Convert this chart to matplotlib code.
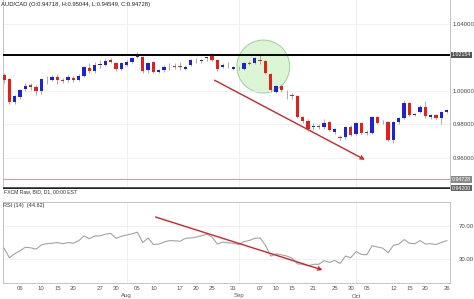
import matplotlib
matplotlib.use("Agg")
import matplotlib.pyplot as plt
import matplotlib.transforms as mtransforms
from matplotlib.patches import Ellipse
import numpy as np
import pandas as pd

plt.rcParams['font.family'] = ['Liberation Sans', 'DejaVu Sans']

# daily candles, 1 Jul - 26 Oct 2015 (weekdays)
dates = pd.bdate_range("2015-07-01", "2015-10-26")

opens = [1.0096, 1.0070, 0.9934, 0.9964, 1.0010, 1.0036, 1.0024, 1.0000, 1.0062, 1.0066,
         1.0084, 1.0064, 1.0066, 1.0078, 1.0066, 1.0090, 1.0137, 1.0119, 1.0155, 1.0155,
         1.0185, 1.0167, 1.0131, 1.0155, 1.0173, 1.0203, 1.0200, 1.0125, 1.0170, 1.0113,
         1.0125, 1.0152, 1.0150, 1.0150, 1.0131, 1.0155, 1.0180, 1.0179, 1.0197, 1.0209,
         1.0185, 1.0143, 1.0158, 1.0131, 1.0140, 1.0131, 1.0167, 1.0167, 1.0182, 1.0179,
         1.0101, 0.9994, 1.0030, 0.9978, 0.9975, 0.9970, 0.9845, 0.9820, 0.9785, 0.9791,
         0.9785, 0.9815, 0.9755, 0.9728, 0.9725, 0.9785, 0.9743, 0.9810, 0.9758, 0.9750,
         0.9845, 0.9816, 0.9815, 0.9707, 0.9815, 0.9839, 0.9928, 0.9857, 0.9875, 0.9905,
         0.9845, 0.9857, 0.9840, 0.9875]
closes = [1.0066, 0.9934, 0.9970, 1.0006, 1.0030, 1.0024, 1.0000, 1.0072, 1.0058, 1.0084,
          1.0066, 1.0060, 1.0084, 1.0066, 1.0090, 1.0144, 1.0119, 1.0155, 1.0161, 1.0179,
          1.0173, 1.0131, 1.0167, 1.0173, 1.0197, 1.0209, 1.0119, 1.0167, 1.0115, 1.0125,
          1.0143, 1.0148, 1.0146, 1.0147, 1.0143, 1.0183, 1.0176, 1.0185, 1.0203, 1.0185,
          1.0131, 1.0155, 1.0155, 1.0143, 1.0137, 1.0167, 1.0164, 1.0197, 1.0179, 1.0107,
          1.0006, 1.0030, 1.0006, 0.9975, 0.9970, 0.9845, 0.9820, 0.9773, 0.9791, 0.9787,
          0.9810, 0.9767, 0.9773, 0.9722, 0.9785, 0.9737, 0.9810, 0.9750, 0.9752, 0.9845,
          0.9810, 0.9813, 0.9707, 0.9815, 0.9839, 0.9928, 0.9857, 0.9863, 0.9905, 0.9851,
          0.9857, 0.9839, 0.9875, 0.9887]
highs = [1.0105, 1.0075, 0.9978, 1.0012, 1.0045, 1.0050, 1.0035, 1.0080, 1.0090, 1.0095,
         1.0100, 1.0080, 1.0095, 1.0090, 1.0100, 1.0150, 1.0165, 1.0175, 1.0185, 1.0190,
         1.0195, 1.0175, 1.0175, 1.0185, 1.0205, 1.0235, 1.0210, 1.0175, 1.0180, 1.0130,
         1.0155, 1.0165, 1.0165, 1.0170, 1.0155, 1.0190, 1.0195, 1.0190, 1.0205, 1.0225,
         1.0190, 1.0165, 1.0170, 1.0150, 1.0150, 1.0175, 1.0180, 1.0205, 1.0215, 1.0185,
         1.0105, 1.0035, 1.0040, 1.0006, 0.9990, 0.9975, 0.9850, 0.9830, 0.9810, 0.9800,
         0.9835, 0.9820, 0.9780, 0.9740, 0.9790, 0.9795, 0.9815, 0.9815, 0.9770, 0.9850,
         0.9850, 0.9825, 0.9820, 0.9820, 0.9845, 0.9945, 0.9935, 0.9870, 0.9915, 0.9940,
         0.9865, 0.9865, 0.9880, 0.9895]
lows = [1.0050, 0.9925, 0.9925, 0.9955, 1.0000, 1.0005, 0.9975, 0.9980, 1.0040, 1.0060,
        1.0040, 1.0045, 1.0055, 1.0055, 1.0060, 1.0085, 1.0110, 1.0110, 1.0140, 1.0150,
        1.0165, 1.0120, 1.0125, 1.0150, 1.0165, 1.0195, 1.0110, 1.0110, 1.0105, 1.0105,
        1.0115, 1.0125, 1.0130, 1.0125, 1.0125, 1.0150, 1.0165, 1.0165, 1.0180, 1.0180,
        1.0120, 1.0135, 1.0140, 1.0125, 1.0125, 1.0125, 1.0155, 1.0160, 1.0160, 1.0100,
        0.9995, 0.9985, 0.9995, 0.9950, 0.9950, 0.9840, 0.9810, 0.9760, 0.9770, 0.9775,
        0.9775, 0.9760, 0.9745, 0.9710, 0.9715, 0.9730, 0.9735, 0.9745, 0.9740, 0.9745,
        0.9800, 0.9800, 0.9700, 0.9690, 0.9805, 0.9830, 0.9850, 0.9850, 0.9870, 0.9840,
        0.9835, 0.9830, 0.9800, 0.9870]

rsi = [42.6, 31.0, 35.7, 39.5, 43.7, 43.0, 41.4, 46.5, 48.0, 48.5,
       49.4, 48.0, 49.4, 48.5, 51.7, 57.4, 54.0, 57.4, 57.5, 59.5,
       60.5, 54.5, 57.0, 58.5, 60.0, 62.0, 49.4, 55.0, 47.0, 47.5,
       50.0, 51.7, 51.5, 51.0, 54.5, 55.0, 56.0, 57.5, 59.5, 56.0,
       47.5, 50.0, 49.0, 48.5, 47.0, 50.5, 52.0, 54.5, 55.0, 46.0,
       33.0, 35.7, 34.5, 33.0, 30.5, 23.5, 23.0, 21.0, 23.0, 23.0,
       27.5, 25.3, 27.7, 24.0, 33.0, 31.0, 38.5, 35.0, 34.6, 45.5,
       44.0, 42.6, 37.0, 46.0, 47.5, 53.0, 48.5, 48.0, 51.7, 47.5,
       48.0, 47.0, 49.5, 51.7]

tick_days = ["2015-07-06", "2015-07-10", "2015-07-15", "2015-07-20", "2015-07-27", "2015-07-30",
             "2015-08-05", "2015-08-10", "2015-08-17", "2015-08-20", "2015-08-25", "2015-08-31",
             "2015-09-07", "2015-09-10", "2015-09-15", "2015-09-21", "2015-09-25", "2015-09-30",
             "2015-10-05", "2015-10-12", "2015-10-15", "2015-10-20", "2015-10-26"]
month_starts = ["2015-08-03", "2015-09-01", "2015-10-01"]
month_names = ["Aug", "Sep", "Oct"]

resistance = 1.02154
last_close = 0.94728
support = 0.94200
title = "AUD/CAD (O:0.94718, H:0.95044, L:0.94549, C:0.94728)"

UP = "#1e22d6"
DOWN = "#e3211c"
GRID = "#ececec"

x = np.arange(len(dates))
o = np.array(opens)
c = np.array(closes)
pos = {d: i for i, d in enumerate(dates.strftime("%Y-%m-%d"))}

fig = plt.figure(figsize=(4.74, 2.99), dpi=100)
ax1 = fig.add_axes([3/474, 110/299, 447/474, 189/299])
ax2 = fig.add_axes([3/474, 16/299, 447/474, 81/299])

# --- price panel ---
ax1.vlines(x, lows, highs, color="#9aa39a", lw=0.6, zorder=2)
body = np.where(np.abs(c - o) < 0.0004, np.sign(c - o + 1e-9) * 0.0004, c - o)
ax1.bar(x, body, bottom=o, width=0.62, color=np.where(c >= o, UP, DOWN), lw=0, zorder=3)

ax1.axhline(resistance, color="black", lw=1.4, zorder=4)
ax1.axhline(last_close, color="#d99a9a", lw=0.8, zorder=4)
ax1.axhline(support, color="#222222", lw=1.8, zorder=4)

circle = Ellipse((48.6, 1.0146), 9.9, 0.0316, facecolor="#d2f3cb", edgecolor="#8cc48c",
                 lw=0.7, alpha=0.8, zorder=1.5)
ax1.add_patch(circle)
ax1.annotate("", xy=(68.1, 0.9582), xytext=(39.0, 1.0072),
             arrowprops=dict(arrowstyle="->", color="#d2232a", lw=1.0, mutation_scale=6), zorder=6)

ax1.set_xlim(-0.2, 83.6)
ax1.set_ylim(0.9415, 1.0543)
ax1.set_yticks([0.96, 0.98, 1.00, 1.04])
ax1.yaxis.set_major_formatter(matplotlib.ticker.FormatStrFormatter("%.5f"))
ax1.yaxis.tick_right()
ax1.tick_params(axis="y", length=0, pad=2, labelsize=4.3, labelcolor="#444444")
ax1.set_xticks([])
ax1.grid(axis="y", color=GRID, lw=0.5)
for m in month_starts:
    ax1.axvline(pos[m], color=GRID, lw=0.6, zorder=0)
for s in ["top", "bottom"]:
    ax1.spines[s].set_visible(False)
for s in ["left", "right"]:
    ax1.spines[s].set_color("#bbbbbb")
    ax1.spines[s].set_linewidth(0.6)

btrans = mtransforms.blended_transform_factory(ax1.transAxes, ax1.transData)
ax1.text(1.004, resistance, "%.5f" % resistance, transform=btrans, fontsize=3.8, color="white",
         va="center", ha="left", bbox=dict(boxstyle="square,pad=0.15", fc="#555555", ec="none"))
ax1.text(1.004, last_close, "%.5f" % last_close, transform=btrans, fontsize=3.8, color="white",
         va="center", ha="left", bbox=dict(boxstyle="square,pad=0.15", fc="#8a8a8a", ec="none"))
ax1.text(1.004, support, "%.5f" % support, transform=btrans, fontsize=3.8, color="white",
         va="center", ha="left", bbox=dict(boxstyle="square,pad=0.15", fc="#666666", ec="none"))

fig.text(0.003, 0.992, title, fontsize=4.2, color="#222222", va="top", ha="left")
fig.text(0.008, 1 - 192/299, "FXCM Raw, BID, D1, 00:00 EST", fontsize=3.7, color="#333333",
         va="center", ha="left")

# --- RSI panel ---
ax2.plot(x, rsi, color="#a3a3a3", lw=0.8, zorder=3)
ax2.annotate("", xy=(60.2, 15.1), xytext=(27.9, 81.4),
             arrowprops=dict(arrowstyle="->", color="#d2232a", lw=1.0, mutation_scale=6), zorder=6)
ax2.set_xlim(-0.2, 83.6)
ax2.set_ylim(0.3, 98.6)
ax2.set_yticks([30, 70])
ax2.yaxis.set_major_formatter(matplotlib.ticker.FormatStrFormatter("%.2f"))
ax2.yaxis.tick_right()
ax2.tick_params(axis="y", length=0, pad=6, labelsize=4.3, labelcolor="#444444")
ax2.grid(axis="y", color=GRID, lw=0.5)
for m in month_starts:
    ax2.axvline(pos[m], color=GRID, lw=0.6, zorder=0)
ax2.set_xticks([pos[d] for d in tick_days])
ax2.set_xticklabels([d[-2:] for d in tick_days])
ax2.tick_params(axis="x", length=0, pad=2, labelsize=4.3, labelcolor="#555555")
for s in ax2.spines.values():
    s.set_color("#bbbbbb")
    s.set_linewidth(0.6)
ax2.text(0.0, 1.0 - 0.01, "RSI (14)  (44.62)", transform=ax2.transAxes, fontsize=4.0,
         color="#333333", va="top", ha="left")
mtrans = mtransforms.blended_transform_factory(ax2.transData, fig.transFigure)
for m, name in zip(month_starts, month_names):
    ax2.text(pos[m], 1 - 296/299, name, transform=mtrans, fontsize=4.3, color="#555555",
             ha="center", va="center")

fig.savefig("out.png", dpi=100)
